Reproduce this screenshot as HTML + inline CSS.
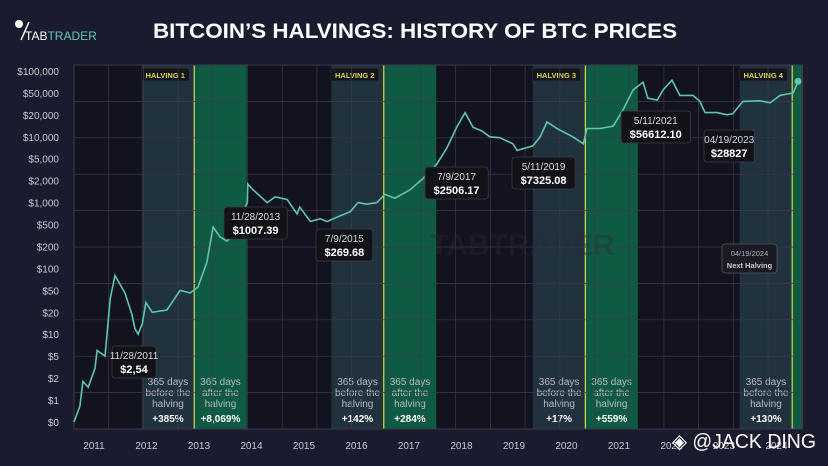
<!DOCTYPE html>
<html><head><meta charset="utf-8"><style>
html,body{margin:0;padding:0;background:#1b1b30;width:828px;height:466px;overflow:hidden}
svg{display:block}
text{font-family:"Liberation Sans",sans-serif}
</style></head><body>
<svg id="c" width="828" height="466" viewBox="0 0 828 466">
<rect x="0" y="0" width="828" height="466" fill="#1b1b30"/>
<g>
<circle cx="19" cy="24" r="4" fill="#fff"/>
<line x1="29" y1="22" x2="21" y2="40" stroke="#fff" stroke-width="1.5"/>
<text x="25" y="40" font-size="12" fill="#fff">TAB<tspan fill="#5fc9b5">TRADER</tspan></text>
</g>
<text x="153" y="38" font-size="21" font-weight="bold" fill="#fff" textLength="524" lengthAdjust="spacingAndGlyphs">BITCOIN’S HALVINGS: HISTORY OF BTC PRICES</text>
<rect x="74" y="65" width="728" height="364" fill="#13131f"/>
<g id="bands"></g>
<g id="grid"></g>
<text x="430" y="255" font-size="30" font-weight="bold" fill="#2a2a3a" opacity="0.35">TABTRADER</text>
<g id="yaxis"></g>
<g id="xaxis"></g>
<path id="line" fill="none" stroke="#5ec6ae" stroke-width="1.6"/>
<g id="notes"></g>
<text x="672" y="448" font-size="20" fill="#fff" textLength="144" lengthAdjust="spacingAndGlyphs">◈ @JACK DING</text>
</svg>
<script>
const tickLabels=["$0","$1","$2","$5","$10","$20","$50","$100","$200","$500","$1,000","$2,000","$5,000","$10,000","$20,000","$50,000","$100,000"];
const tickValues=[0.3,1,2,5,10,20,50,100,200,500,1000,2000,5000,10000,20000,50000,100000];
const years=[2011,2012,2013,2014,2015,2016,2017,2018,2019,2020,2021,2022,2023,2024];
const halvingDates=[2012.91,2016.52,2020.36,2024.30];
const halvingNames=["HALVING 1","HALVING 2","HALVING 3","HALVING 4"];
const beforePct=["+385%","+142%","+17%","+130%"];
const afterPct=["+8,069%","+284%","+559%",""];
const dates=[2010.62,2010.73,2010.79,2010.89,2011.02,2011.06,2011.21,2011.31,2011.40,2011.50,2011.59,2011.72,2011.78,2011.84,2011.92,2011.99,2012.11,2012.39,2012.64,2012.83,2012.98,2013.15,2013.27,2013.40,2013.53,2013.59,2013.92,2013.93,2014.03,2014.30,2014.45,2014.68,2014.87,2014.92,2015.12,2015.31,2015.44,2015.67,2015.88,2016.03,2016.20,2016.39,2016.54,2016.73,2017.02,2017.27,2017.53,2017.72,2017.92,2018.07,2018.22,2018.39,2018.54,2018.73,2018.98,2019.06,2019.36,2019.50,2019.63,2019.82,2020.12,2020.32,2020.39,2020.64,2020.89,2021.08,2021.27,2021.46,2021.55,2021.73,2021.84,2022.01,2022.16,2022.41,2022.54,2022.64,2022.87,2023.06,2023.17,2023.36,2023.69,2023.88,2024.07,2024.32,2024.41];
const prices=[0.3,0.7,1.8,1.5,3,6,5,35,80,60,45,19,12,10,14,30,20,22,50,45,55,120,450,300,250,280,1000,1800,1500,1000,1200,1100,700,870,550,600,550,650,750,1000,950,1000,1300,1150,1500,2200,4000,7000,14000,22000,13500,12000,10000,9700,8000,6500,7500,10000,16000,13000,10000,8000,13000,13000,14000,25000,55000,70000,40000,37000,55000,75000,45000,45000,35000,22000,22000,20000,21000,35000,36000,33000,45000,50000,72000];
const notes=[["11/28/2011","$2,54",112,346],["11/28/2013","$1007.39",224,207],["7/9/2015","$269.68",316,229],["7/9/2017","$2506.17",425,167],["5/11/2019","$7325.08",512,157],["5/11/2021","$56612.10",621,111],["04/19/2023","$28827",704,130]];
const NS="http://www.w3.org/2000/svg";
function X(t){return 74+(t-2010.62)*52.5;}
function Y(v){let i=0;if(v<=tickValues[0])return 422;
 for(i=0;i<tickValues.length-1;i++){if(v<=tickValues[i+1])break;}
 if(i>=tickValues.length-1)i=tickValues.length-2;
 const f=(Math.log(v)-Math.log(tickValues[i]))/(Math.log(tickValues[i+1])-Math.log(tickValues[i]));
 return 422-(i+f)*21.94;}
function mk(tag,attrs,parent,txt){const e=document.createElementNS(NS,tag);for(const k in attrs)e.setAttribute(k,attrs[k]);if(txt!==undefined)e.textContent=txt;parent.appendChild(e);return e;}
const bands=document.getElementById('bands');
halvingDates.forEach((h,i)=>{
 const x0=Math.max(74,X(h-1)),x1=X(h),x2=Math.min(802,X(h+1));
 let r=mk('rect',{x:x0,y:65,width:x1-x0,height:364,fill:'#21323f'},bands);
 
 
 r=mk('rect',{x:x1,y:65,width:x2-x1,height:364,fill:'#0f5a43'},bands);
 
 
 const l=mk('line',{x1:x1,y1:65,x2:x1,y2:429,stroke:'#d8d84a','stroke-width':1.2},bands);
 
 
 const bx=mk('rect',{x:x1-53,y:68,width:48,height:13,rx:2,fill:'#15151f',stroke:'#333',"stroke-width":0.6},bands);
 
 
 const t=mk('text',{x:x1-29,y:78,'font-size':7.5,'font-weight':'bold',fill:'#d8d84a','text-anchor':'middle'},bands,halvingNames[i]);
 
 
 const cb=(x0+x1)/2,ca=(x1+x2)/2;
 [["365 days",385],["before the",396],["halving",407]].forEach(s=>{const e=mk('text',{x:cb,y:s[1],'font-size':10,fill:'#b8bcc4','text-anchor':'middle'},bands,s[0]);
 
 });
 let p=mk('text',{x:cb,y:422,'font-size':10,'font-weight':'bold',fill:'#fff','text-anchor':'middle'},bands,beforePct[i]);
 
 
 if(afterPct[i]){
 [["365 days",385],["after the",396],["halving",407]].forEach(s=>{const e=mk('text',{x:ca,y:s[1],'font-size':10,fill:'#b8bcc4','text-anchor':'middle'},bands,s[0]);
 
 });
 p=mk('text',{x:ca,y:422,'font-size':10,'font-weight':'bold',fill:'#fff','text-anchor':'middle'},bands,afterPct[i]);
 
 }
});
const grid=document.getElementById('grid');
for(let k=0;k<=10;k++){const y=65+k*36.4;const g=mk('line',{x1:74,x2:802,y1:y,y2:y,stroke:'#3a3a4c','stroke-width':0.7},grid);
 
 }
for(let k=0;k<=21;k++){const x=74+k*34.7;const g=mk('line',{x1:x,x2:x,y1:65,y2:429,stroke:'#3a3a4c','stroke-width':0.7},grid);
 
 }
mk('rect',{x:74,y:65,width:728,height:364,fill:'none',stroke:'#3a3a4c'},grid);
const ya=document.getElementById('yaxis');
tickLabels.forEach((s,i)=>{const t=mk('text',{x:59,y:422-i*21.94+4,'font-size':10,fill:'#c8c8d0','text-anchor':'end'},ya,s);
 
 });
const xa=document.getElementById('xaxis');
years.forEach(yr=>{const t=mk('text',{x:X(yr),y:449,'font-size':10,fill:'#c8c8d0','text-anchor':'middle'},xa,String(yr));
 
 });
document.getElementById('line').setAttribute('d',dates.map((d,i)=>(i?'L':'M')+X(d).toFixed(1)+','+Y(prices[i]).toFixed(1)).join(''));
const n=document.getElementById('notes');
const dot=mk('circle',{cx:X(dates[dates.length-1]),cy:Y(prices[prices.length-1]),r:3.5,fill:'#5ec6ae'},n);


notes.forEach(a=>{const g=mk('g',{},n);
 
 
 mk('rect',{x:a[2],y:a[3],width:a[1].length*6.4+12,height:32,rx:3,fill:'#121219',stroke:'#3c3c48','stroke-width':0.8},g);
 const cx=a[2]+(a[1].length*6.4+12)/2;
 mk('text',{x:cx,y:a[3]+13,'font-size':10,fill:'#d8d8e0','text-anchor':'middle'},g,a[0]);
 mk('text',{x:cx,y:a[3]+27,'font-size':11,'font-weight':'bold',fill:'#fff','text-anchor':'middle'},g,a[1]);});
const nh=mk('g',{},n);


mk('rect',{x:722,y:244,width:55,height:29,rx:3,fill:'#1a1a24',stroke:'#555','stroke-width':0.8},nh);
mk('text',{x:749.5,y:256,'font-size':7.5,fill:'#b0b0b8','text-anchor':'middle'},nh,'04/19/2024');
mk('text',{x:749.5,y:268,'font-size':7.5,'font-weight':'bold',fill:'#c8c8d0','text-anchor':'middle'},nh,'Next Halving');
</script>
</body></html>
